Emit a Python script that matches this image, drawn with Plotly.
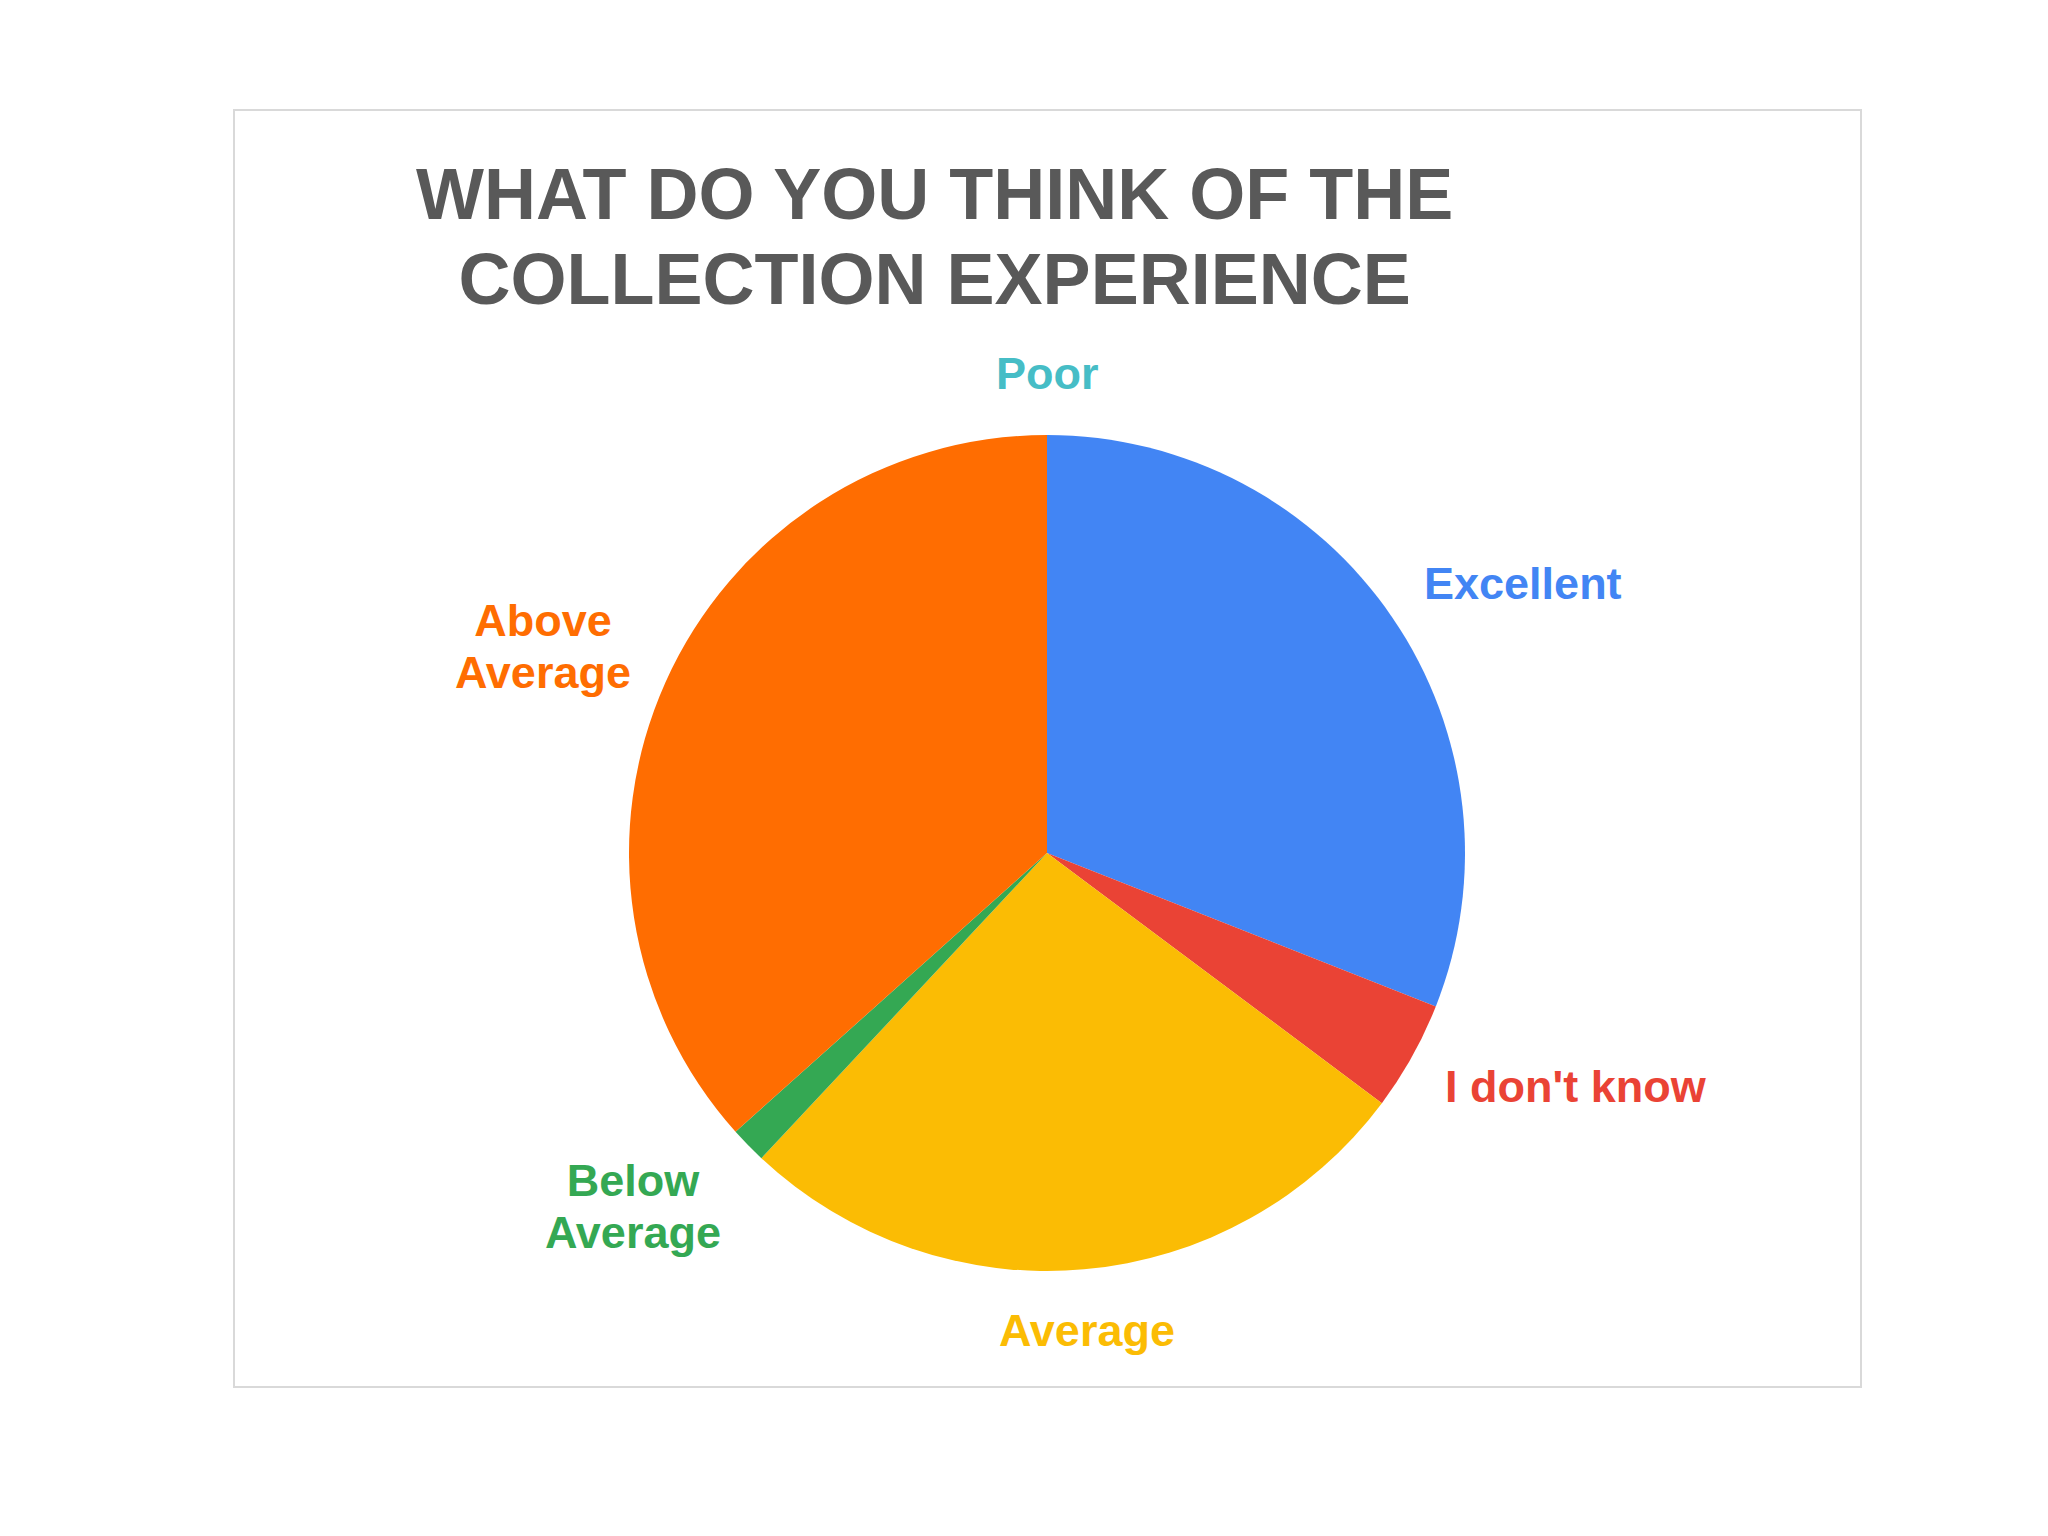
import math
import plotly.graph_objects as go

# ---- data ----
categories = ["Poor", "Excellent", "I don't know", "Average", "Below Average", "Above Average"]
responses = [0, 22, 3, 19, 1, 26]
label_lines = [["Poor"], ["Excellent"], ["I don't know"], ["Average"], ["Below", "Average"], ["Above", "Average"]]
colors = ["#46BDC6", "#4285F4", "#EA4335", "#FBBC04", "#34A853", "#FF6D01"]
title_lines = ["WHAT DO YOU THINK OF THE", "COLLECTION EXPERIENCE"]

# ---- layout geometry (page pixels) ----
W, H = 2048, 1536
BODY = 8  # default page margin offset
CX, CY, R = 1047, 853, 418
LABEL_GAP = 35
LABEL_SIZE = 45
LABEL_LINE = 52
FONT = "Liberation Sans, Arial, sans-serif"


def fx(px):
    return (px - BODY) / W


def fy(py):
    return 1 - (py - BODY) / H


def styled(lines, size):
    return "<br>".join(
        "<span style='font-size:%dpx'><b>%s</b></span>" % (size, ln) for ln in lines
    )


fig = go.Figure(
    go.Pie(
        labels=categories,
        values=responses,
        sort=False,
        direction="clockwise",
        rotation=0,
        marker=dict(colors=colors, line=dict(width=0)),
        textinfo="none",
        hoverinfo="label+value+percent",
        showlegend=False,
        domain=dict(x=[fx(CX - R), fx(CX + R)], y=[fy(CY + R), fy(CY - R)]),
    )
)

# labels placed outside each slice at its mid angle (computed from the values)
total = sum(responses)
cum = 0.0
annotations = []
for val, lines, col in zip(responses, label_lines, colors):
    mid = (cum + val / 2) / total * 2 * math.pi
    cum += val
    s, c = math.sin(mid), math.cos(mid)
    rl = R + LABEL_GAP
    px = CX + rl * s
    py = CY - rl * c
    xa = "left" if s > 0.3 else ("right" if s < -0.3 else "center")
    h = len(lines) * LABEL_LINE
    annotations.append(
        dict(
            x=fx(px), y=fy(py), xref="paper", yref="paper",
            text=styled(lines, LABEL_SIZE), showarrow=False,
            xanchor=xa, yanchor="middle", yshift=c * h / 2, align="center",
            font=dict(family=FONT, size=LABEL_LINE / 1.3, color=col),
        )
    )

# title
annotations.append(
    dict(
        x=fx(934), y=fy(152), xref="paper", yref="paper",
        text=styled(title_lines, 72), showarrow=False,
        xanchor="center", yanchor="top", align="center",
        font=dict(family=FONT, size=85 / 1.3, color="#595959"),
    )
)

fig.update_layout(
    width=W, height=H,
    margin=dict(l=0, r=0, t=0, b=0),
    paper_bgcolor="white",
    plot_bgcolor="white",
    annotations=annotations,
    shapes=[
        dict(
            type="rect", xref="paper", yref="paper",
            x0=fx(234), x1=fx(1861), y0=fy(1387), y1=fy(110),
            line=dict(color="#D9D9D9", width=2), fillcolor="rgba(0,0,0,0)",
            layer="below",
        )
    ],
)

fig.write_html("out.html")
